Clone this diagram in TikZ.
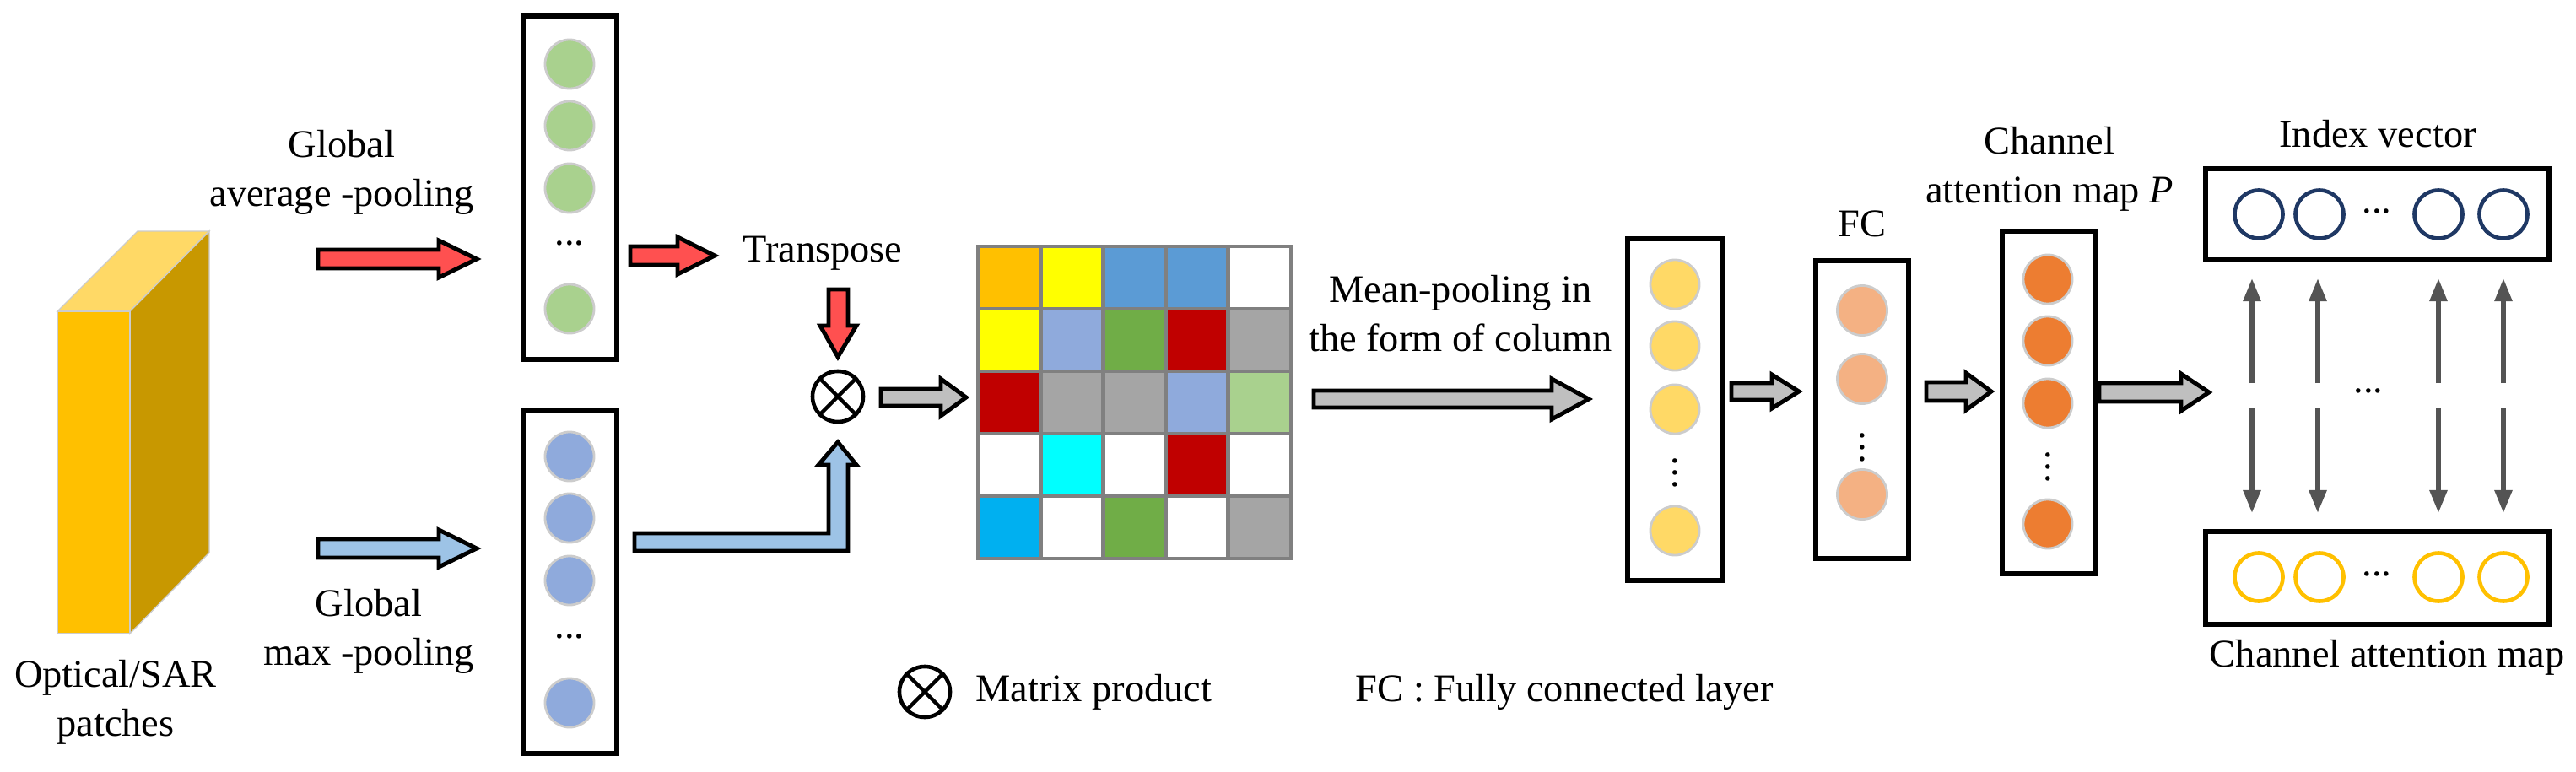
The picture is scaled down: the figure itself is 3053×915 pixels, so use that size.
\documentclass[tikz,border=0pt]{standalone}
\usepackage{fontspec}
\setmainfont{Liberation Serif}
\usetikzlibrary{arrows.meta}
\begin{document}
\newcommand\hbarrow[7]{% x1,x2,yc,hb,hh,headstart,style
  \draw[#7] (#1,#3-#4) -- (#6,#3-#4) -- (#6,#3-#5) -- (#2,#3) -- (#6,#3+#5) -- (#6,#3+#4) -- (#1,#3+#4) -- cycle;}
\definecolor{c1}{HTML}{FFC000}\definecolor{c2}{HTML}{FFFF00}\definecolor{c3}{HTML}{5B9BD5}
\definecolor{c4}{HTML}{8FAADC}\definecolor{c5}{HTML}{70AD47}\definecolor{c6}{HTML}{C00000}
\definecolor{c7}{HTML}{A5A5A5}\definecolor{c8}{HTML}{A9D18E}\definecolor{c9}{HTML}{00FFFF}
\definecolor{c10}{HTML}{00B0F0}
\definecolor{redA}{HTML}{FF5050}\definecolor{blueA}{HTML}{9DC3E6}\definecolor{grayA}{HTML}{BFBFBF}
\definecolor{cubF}{HTML}{FFC000}\definecolor{cubS}{HTML}{C89800}\definecolor{cubT}{HTML}{FFD966}
\definecolor{yelC}{HTML}{FFD966}\definecolor{fcC}{HTML}{F4B183}\definecolor{orC}{HTML}{ED7D31}
\definecolor{navy}{HTML}{1F3864}
\begin{tikzpicture}[x=0.01cm,y=-0.01cm,
  txt/.style={font=\fontsize{13.2}{16.5}\selectfont, align=center, inner sep=0pt},
  box/.style={draw=black, line width=1.6pt},
  dot/.style={circle, minimum size=0.58cm, inner sep=0pt, draw=black!20, line width=0.8pt},
  red/.style={fill=redA, draw=black, line width=1.4pt},
  blue/.style={fill=blueA, draw=black, line width=1.4pt},
  gray/.style={fill=grayA, draw=black, line width=1.4pt},
  varrow/.style={draw=black!67, line width=1.6pt, -{Triangle[length=0.27cm,width=0.2cm]}}]
\useasboundingbox (0,0) rectangle (3053,915);
% cuboid
\fill[cubT, draw=black!20] (68,369) -- (163,274) -- (248,274) -- (154,369) -- cycle;
\fill[cubS, draw=black!20] (154,369) -- (248,274) -- (248,655) -- (154,751) -- cycle;
\fill[cubF, draw=black!20] (68,369) rectangle (154,751);
\node[txt] (lab) at (137,832) {Optical/SAR\\patches};
% upper branch
\node[txt] (gap) at (405,204) {Global\\average -pooling};
\hbarrow{377}{565}{307}{11}{22}{520}{red}
\node[box, minimum width=1.11cm, minimum height=4.07cm] (ub) at (675.5,222.5) {};
\foreach \y/\n in {76/a,149/b,223/c,366/d} \node[dot, fill=c8] (u\n) at (675,\y) {};
\node[txt] at (675,288) {...};
\hbarrow{747}{847}{303}{11}{22}{803}{red}
\node[txt] (tr) at (975,300) {Transpose};
\draw[red] (982,343) -- (1005,343) -- (1005,386) -- (1015,386) -- (993,423) -- (972,386) -- (982,386) -- cycle;
\node[circle, draw=black, line width=1.3pt, minimum size=0.6cm, inner sep=0pt] (ot) at (993,470) {};
\draw[line width=1.3pt] (ot.north west) -- (ot.south east) (ot.north east) -- (ot.south west);
% lower branch
\hbarrow{377}{565}{650}{11}{22}{520}{blue}
\node[txt] (gmp) at (437,748) {Global\\max -pooling};
\node[box, minimum width=1.11cm, minimum height=4.07cm] (lb) at (675.5,689.5) {};
\foreach \y/\n in {541/a,614/b,688/c,833/d} \node[dot, fill=c4] (l\n) at (675,\y) {};
\node[txt] at (675,754) {...};
\draw[blue] (752,632) -- (982,632) -- (982,551) -- (970,551) -- (993,524) -- (1015,551) -- (1005,551) -- (1005,653) -- (752,653) -- cycle;
\hbarrow{1044}{1145}{471}{10}{22}{1115}{gray}
% matrix
\foreach \row [count=\r from 0] in {{c1,c2,c3,c3,white},{c2,c4,c5,c6,c7},{c6,c7,c7,c4,c8},{white,c9,white,c6,white},{c10,white,c5,white,c7}}
  \foreach \c [count=\k from 0] in \row
    \fill[\c, draw=black!50, line width=1.4pt] (1159+\k*74.2,292+\r*74) rectangle ++(74.2,74);
\node[txt] (mp) at (1731,372) {Mean-pooling in\\the form of column};
\hbarrow{1557}{1883}{473}{10}{24}{1839}{gray}
\node[box, minimum width=1.12cm, minimum height=4.05cm] (yb) at (1985,485.5) {};
\foreach \y/\n in {337/a,410/b,485/c,629/d} \node[dot, fill=yelC] (y\n) at (1985,\y) {};
\node[txt] at (1985,550) {$\vdots$};
\hbarrow{2052}{2132}{464}{10}{20}{2100}{gray}
\node[box, minimum width=1.1cm, minimum height=3.53cm] (fb) at (2207,485.5) {};
\foreach \y/\n in {368/a,449/b,586/c} \node[dot, fill=fcC, minimum size=0.59cm] (f\n) at (2207,\y) {};
\node[txt] at (2207,520) {$\vdots$};
\node[txt] (fc) at (2207,265) {FC};
\hbarrow{2283}{2360}{464}{11}{22}{2330}{gray}
\node[box, minimum width=1.1cm, minimum height=4.06cm] (ob) at (2428,477) {};
\foreach \y/\n in {331/a,404/b,478/c,621/d} \node[dot, fill=orC] (o\n) at (2427,\y) {};
\node[txt] at (2427,543) {$\vdots$};
\node[txt] (cam) at (2429,200) {Channel\\attention map \textit{P}};
\hbarrow{2488}{2618}{465}{11}{22}{2585}{gray}
% index vector / channel attention map
\node[box, minimum width=4.07cm, minimum height=1.08cm] (ib) at (2817.5,254) {};
\node[box, minimum width=4.07cm, minimum height=1.1cm] (cb) at (2817.5,685) {};
\node[txt] (iv) at (2818,159) {Index vector};
\node[txt] (cml) at (2829,779) {Channel attention map};
\foreach \x/\n in {2677/a,2749/b,2890/c,2967/d}{
  \node[circle, draw=navy, line width=1.3pt, minimum size=0.57cm, inner sep=0pt] (i\n) at (\x,254) {};
  \node[circle, draw=c1, line width=1.3pt, minimum size=0.57cm, inner sep=0pt] (m\n) at (\x,684) {};
}
\node[txt] at (2817,250) {...};
\node[txt] at (2817,680) {...};
\node[txt] at (2807,463) {...};
\foreach \x/\n in {2669/a,2747/b,2890/c,2967/d}{
  \coordinate (su\n) at (\x,454); \coordinate (tu\n) at (\x,330);
  \coordinate (sd\n) at (\x,484); \coordinate (td\n) at (\x,608);
  \draw[varrow] (su\n) -- (tu\n);
  \draw[varrow] (sd\n) -- (td\n);
}
% legend
\node[circle, draw=black, line width=1.3pt, minimum size=0.6cm, inner sep=0pt] (lg) at (1096,820) {};
\draw[line width=1.3pt] (lg.north west) -- (lg.south east) (lg.north east) -- (lg.south west);
\node[txt, anchor=west] (mpl) at (1156,820) {Matrix product};
\node[txt, anchor=west] (fcl) at (1606,820) {FC : Fully connected layer};
\end{tikzpicture}
\end{document}
